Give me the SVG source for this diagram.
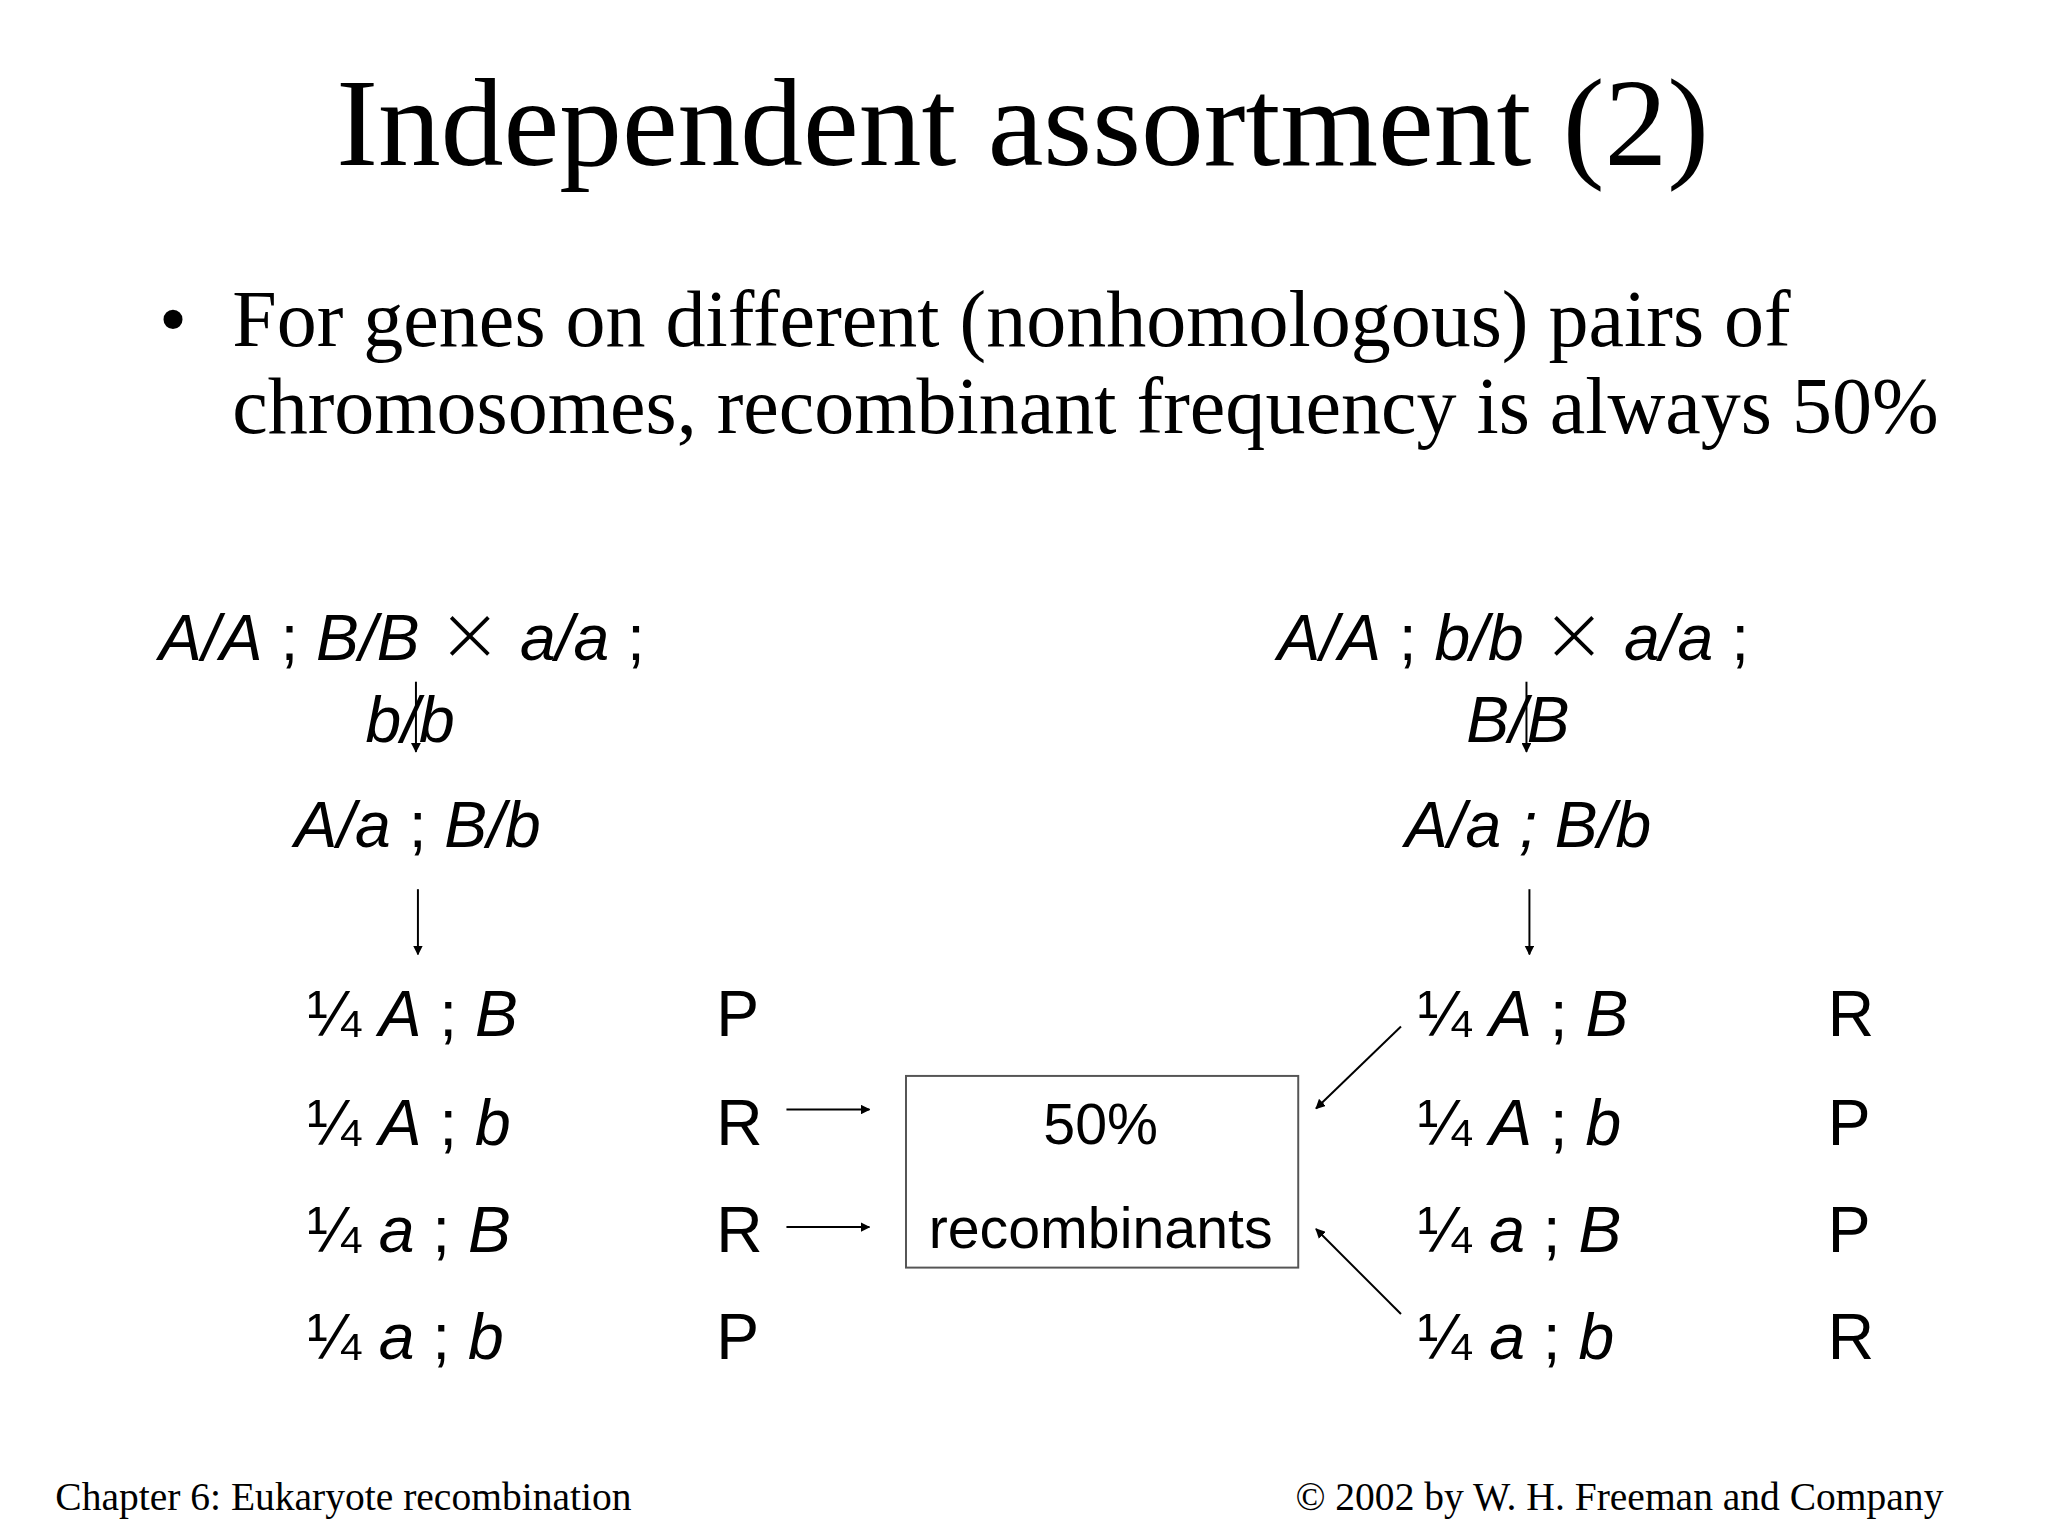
<svg xmlns="http://www.w3.org/2000/svg" width="2048" height="1536" viewBox="0 0 2048 1536">
<defs>
<style>
.t{font-family:"Liberation Serif",serif;fill:#000}
.s{font-family:"Liberation Sans",Arial,sans-serif;fill:#000;font-size:65px}
.i{font-style:italic}
.x{font-family:"DejaVu Sans",sans-serif;font-size:78px;font-weight:200}
.c{stroke:#000;stroke-width:2;fill:none}
</style>
<marker id="ah" markerWidth="10" markerHeight="10" refX="9" refY="5" orient="auto" markerUnits="userSpaceOnUse"><path d="M0,0 L10,5 L0,10 Z" fill="#000"/></marker>
</defs>
<rect width="2048" height="1536" fill="#fff"/>
<g transform="scale(0.988)">
<text class="t" x="1035" y="167" font-size="127" text-anchor="middle">Independent assortment (2)</text>
<text class="t" x="161" y="350" font-size="81">•</text>
<text class="t" x="235" y="350" font-size="81">For genes on different (nonhomologous) pairs of</text>
<text class="t" x="235" y="438" font-size="81">chromosomes, recombinant frequency is always 50%</text>
<g id="left">
<text class="s" x="161" y="668"><tspan class="i">A/A</tspan> ; <tspan class="i">B/B</tspan> <tspan class="x">×</tspan> <tspan class="i">a/a</tspan> ;</text>
<text class="s i" x="370" y="751">b/b</text>
<text class="s" x="298" y="857"><tspan class="i">A/a</tspan> ; <tspan class="i">B/b</tspan></text>
<text class="s" x="311" y="1049">¼ <tspan class="i">A</tspan> ; <tspan class="i">B</tspan></text>
<text class="s" x="311" y="1159">¼ <tspan class="i">A</tspan> ; <tspan class="i">b</tspan></text>
<text class="s" x="311" y="1267">¼ <tspan class="i">a</tspan> ; <tspan class="i">B</tspan></text>
<text class="s" x="311" y="1376">¼ <tspan class="i">a</tspan> ; <tspan class="i">b</tspan></text>
<text class="s" x="725" y="1049">P</text>
<text class="s" x="725" y="1159">R</text>
<text class="s" x="725" y="1267">R</text>
<text class="s" x="725" y="1376">P</text>
</g>
<g id="right">
<text class="s" x="1293" y="668"><tspan class="i">A/A</tspan> ; <tspan class="i">b/b</tspan> <tspan class="x">×</tspan> <tspan class="i">a/a</tspan> ;</text>
<text class="s i" x="1484" y="751">B/B</text>
<text class="s i" x="1422" y="857">A/a ; B/b</text>
<text class="s" x="1435" y="1049">¼ <tspan class="i">A</tspan> ; <tspan class="i">B</tspan></text>
<text class="s" x="1435" y="1159">¼ <tspan class="i">A</tspan> ; <tspan class="i">b</tspan></text>
<text class="s" x="1435" y="1267">¼ <tspan class="i">a</tspan> ; <tspan class="i">B</tspan></text>
<text class="s" x="1435" y="1376">¼ <tspan class="i">a</tspan> ; <tspan class="i">b</tspan></text>
<text class="s" x="1850" y="1049">R</text>
<text class="s" x="1850" y="1159">P</text>
<text class="s" x="1850" y="1267">P</text>
<text class="s" x="1850" y="1376">R</text>
</g>
<g id="box">
<rect x="917" y="1089" width="397" height="194" fill="none" stroke="#555" stroke-width="2"/>
<text class="s" x="1114" y="1158" text-anchor="middle" style="font-size:58px">50%</text>
<text class="s" x="1114" y="1263" text-anchor="middle" style="font-size:58px">recombinants</text>
</g>
<g id="connectors">
<line class="c" x1="421" y1="690" x2="421" y2="761" marker-end="url(#ah)"/>
<line class="c" x1="423" y1="900" x2="423" y2="966" marker-end="url(#ah)"/>
<line class="c" x1="1545" y1="690" x2="1545" y2="761" marker-end="url(#ah)"/>
<line class="c" x1="1548" y1="900" x2="1548" y2="966" marker-end="url(#ah)"/>
<line class="c" x1="796" y1="1123" x2="880" y2="1123" marker-end="url(#ah)"/>
<line class="c" x1="796" y1="1242" x2="880" y2="1242" marker-end="url(#ah)"/>
<line class="c" x1="1418" y1="1039" x2="1332" y2="1122" marker-end="url(#ah)"/>
<line class="c" x1="1418" y1="1330" x2="1332" y2="1244" marker-end="url(#ah)"/>
</g>
<text class="t" x="56" y="1528" font-size="40">Chapter 6: Eukaryote recombination</text>
<text class="t" x="1967" y="1528" font-size="40" text-anchor="end">© 2002 by W. H. Freeman and Company</text>
</g>
</svg>
